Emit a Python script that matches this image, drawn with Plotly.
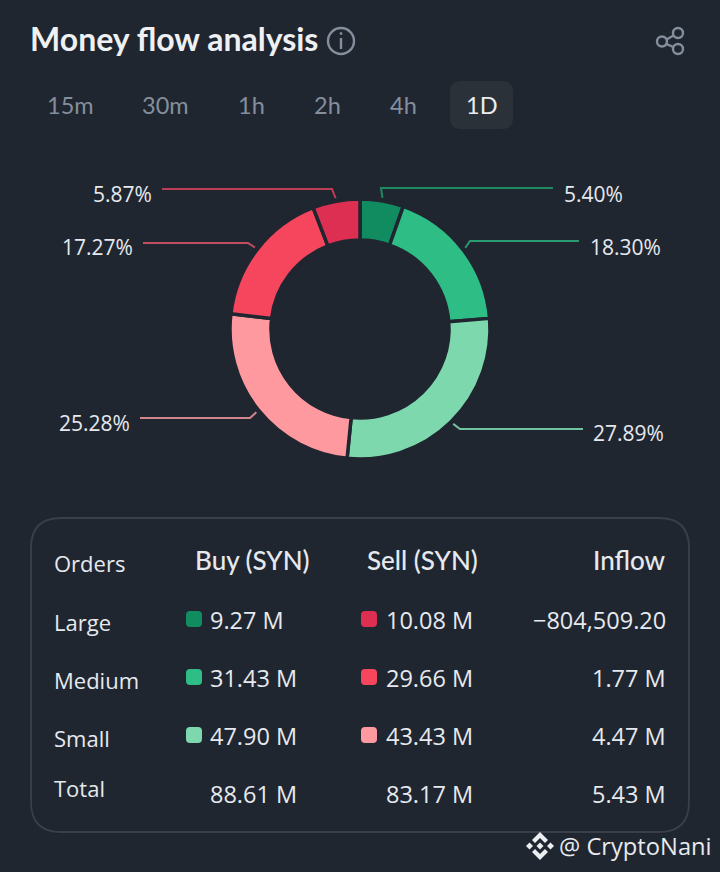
import math
import plotly.graph_objects as go

W, H = 720, 872
BG = "#1f2630"
BODY_FONT = "Open Sans"
HEAD_FONT = "Lato"

# Pie data, clockwise from twelve o'clock
slice_names = ["Large buy", "Medium buy", "Small buy", "Small sell", "Medium sell", "Large sell"]
slice_pcts = [5.40, 18.30, 27.89, 25.28, 17.27, 5.87]
slice_colors = ["#118c60", "#2ebd85", "#7dd8ae", "#ff99a0", "#f6465d", "#dc2f52"]

intervals = ["15m", "30m", "1h", "2h", "4h", "1D"]

rows = ["Large", "Medium", "Small", "Total"]
buy_vals = ["9.27 M", "31.43 M", "47.90 M", "88.61 M"]
sell_vals = ["10.08 M", "29.66 M", "43.43 M", "83.17 M"]
inflow_vals = ["\u2212804,509.20", "1.77 M", "4.47 M", "5.43 M"]


def px(x):
    return x / W


def py(y):
    return 1 - y / H


shapes = []
annotations = []


def text(x, y, s, size=22, color="#e6e9ee", anchor="left", family=BODY_FONT, weight=400):
    annotations.append(dict(
        x=px(x), y=py(y), xref="paper", yref="paper", text=s, showarrow=False,
        xanchor=anchor, yanchor="middle", borderpad=0, borderwidth=0,
        font=dict(size=size, color=color, family=family, weight=weight),
    ))


def path(d, line=None, width=1.5, fill=None):
    shapes.append(dict(
        type="path", path=d, xref="paper", yref="paper",
        line=dict(color=line or "rgba(0,0,0,0)", width=width if line else 0),
        fillcolor=fill or "rgba(0,0,0,0)",
    ))


def move(x, y):
    return f"{px(x):.5f},{py(y):.5f}"


def poly(points, close=False):
    d = "M " + " L ".join(move(x, y) for x, y in points)
    return d + (" Z" if close else "")


def rounded(x0, y0, x1, y1, r):
    return (
        f"M {move(x0 + r, y0)} L {move(x1 - r, y0)} Q {move(x1, y0)} {move(x1, y0 + r)} "
        f"L {move(x1, y1 - r)} Q {move(x1, y1)} {move(x1 - r, y1)} "
        f"L {move(x0 + r, y1)} Q {move(x0, y1)} {move(x0, y1 - r)} "
        f"L {move(x0, y0 + r)} Q {move(x0, y0)} {move(x0 + r, y0)} Z"
    )


def circle(cx, cy, r, line, width=2, fill=None):
    shapes.append(dict(
        type="circle", xref="paper", yref="paper",
        x0=px(cx - r), x1=px(cx + r), y0=py(cy + r), y1=py(cy - r),
        line=dict(color=line, width=width),
        fillcolor=fill or "rgba(0,0,0,0)",
    ))


# Header
text(30, 39, "Money flow analysis", size=32, color="#eef0f3", family=HEAD_FONT, weight=700)
circle(341, 41, 13, "#848e9c", width=2.4)
path(poly([(341, 38), (341, 49)]), line="#848e9c", width=2.4)
circle(341, 33.5, 1, "#848e9c", width=1, fill="#848e9c")

# Share icon
share_col = "#848e9c"
path(poly([(678, 33), (662, 42), (678, 49)]), line=share_col, width=2.4)
for cx, cy in [(678, 33), (662, 41.5), (678, 49)]:
    circle(cx, cy, 5, share_col, width=2.4, fill=BG)

# Interval tabs
path(rounded(450, 81, 513, 129, 11), fill="#2b3139")
tab_x = [70, 165, 252, 327, 403, 482]
for lbl, x in zip(intervals, tab_x):
    text(x, 105, lbl, size=23.5, anchor="center", color="#eaecef" if lbl == "1D" else "#848e9c",
         family=HEAD_FONT)

# Leader lines start on the slice mid angle, then run out to the label
CX, CY, R = 360, 329, 130
leaders = [
    ("#1d8a62", 381, 188, 553, 593, 194),
    ("#2a9a70", 470, 241, 579, 625, 247),
    ("#70c4a0", 460, 429, 583, 628, 433),
    ("#d0868c", 250, 418, 140, 94, 423),
    ("#c24e62", 248, 243, 143, 97, 247),
    ("#bc3d54", 332, 189, 162, 122, 194),
]
running = 0
total = sum(slice_pcts)
for pct, (lcol, ex, ey, endx, lx, ly) in zip(slice_pcts, leaders):
    mid = (running + pct / 2) / total * 2 * math.pi
    running += pct
    sx = CX + (R + 3) * math.sin(mid)
    sy = CY - (R + 3) * math.cos(mid)
    path(poly([(sx, sy), (ex, ey), (endx, ey)]), line=lcol, width=2)
    text(lx, ly, f"{pct:.2f}%", size=21, anchor="center", color="#e6e9ee")

# Table card
path(rounded(31, 518, 689, 832, 30), line="#3a4049", width=1.8)

text(54, 563, "Orders", size=22)
text(253, 560, "Buy (SYN)", size=26, anchor="center", family=HEAD_FONT, weight=500)
text(422, 560, "Sell (SYN)", size=26, anchor="center", family=HEAD_FONT, weight=500)
text(666, 560, "Inflow", size=26, anchor="right", family=HEAD_FONT, weight=500)

label_y = [622, 680, 738, 788]
value_y = [620, 678, 736, 794]
for i, name in enumerate(rows):
    text(54, label_y[i], name, size=22)
    text(210, value_y[i], buy_vals[i], size=23.5)
    text(386, value_y[i], sell_vals[i], size=23.5)
    text(666, value_y[i], inflow_vals[i], size=23.5, anchor="right")

swatch_buy = slice_colors[:3]
swatch_sell = [slice_colors[5], slice_colors[4], slice_colors[3]]
for i in range(3):
    y = value_y[i] - 1
    path(rounded(186, y - 8, 202, y + 8, 4), fill=swatch_buy[i])
    path(rounded(361, y - 8, 377, y + 8, 4), fill=swatch_sell[i])

# Watermark logo, four chevron-ish pieces around a centre diamond
logo = "#eceef1"
lx, ly = 540, 846
path(poly([(lx, ly - 14), (lx + 8, ly - 6), (lx + 5, ly - 3), (lx, ly - 8), (lx - 5, ly - 3),
           (lx - 8, ly - 6)], close=True), fill=logo)
path(poly([(lx, ly + 14), (lx + 8, ly + 6), (lx + 5, ly + 3), (lx, ly + 8), (lx - 5, ly + 3),
           (lx - 8, ly + 6)], close=True), fill=logo)
for dx in [-10.5, 0, 10.5]:
    s = 3.5
    path(poly([(lx + dx, ly - s), (lx + dx + s, ly), (lx + dx, ly + s), (lx + dx - s, ly)],
              close=True), fill=logo)
text(559, 846, "@ CryptoNani", size=23.7, color="#e8eaed")

fig = go.Figure(go.Pie(
    labels=slice_names,
    values=slice_pcts,
    sort=False,
    direction="clockwise",
    rotation=0,
    hole=0.685,
    textinfo="none",
    hoverinfo="label+percent",
    marker=dict(colors=slice_colors, line=dict(color=BG, width=3.5)),
    domain=dict(x=[px(CX - R), px(CX + R)], y=[py(CY + R), py(CY - R)]),
    showlegend=False,
))

fig.update_layout(
    width=W,
    height=H,
    margin=dict(l=0, r=0, t=0, b=0),
    paper_bgcolor=BG,
    plot_bgcolor=BG,
    shapes=shapes,
    annotations=annotations,
)

fig.write_html(
    "out.html",
    config={"displayModeBar": False},
    post_script=f"document.body.style.margin='0';document.body.style.background='{BG}';",
)
